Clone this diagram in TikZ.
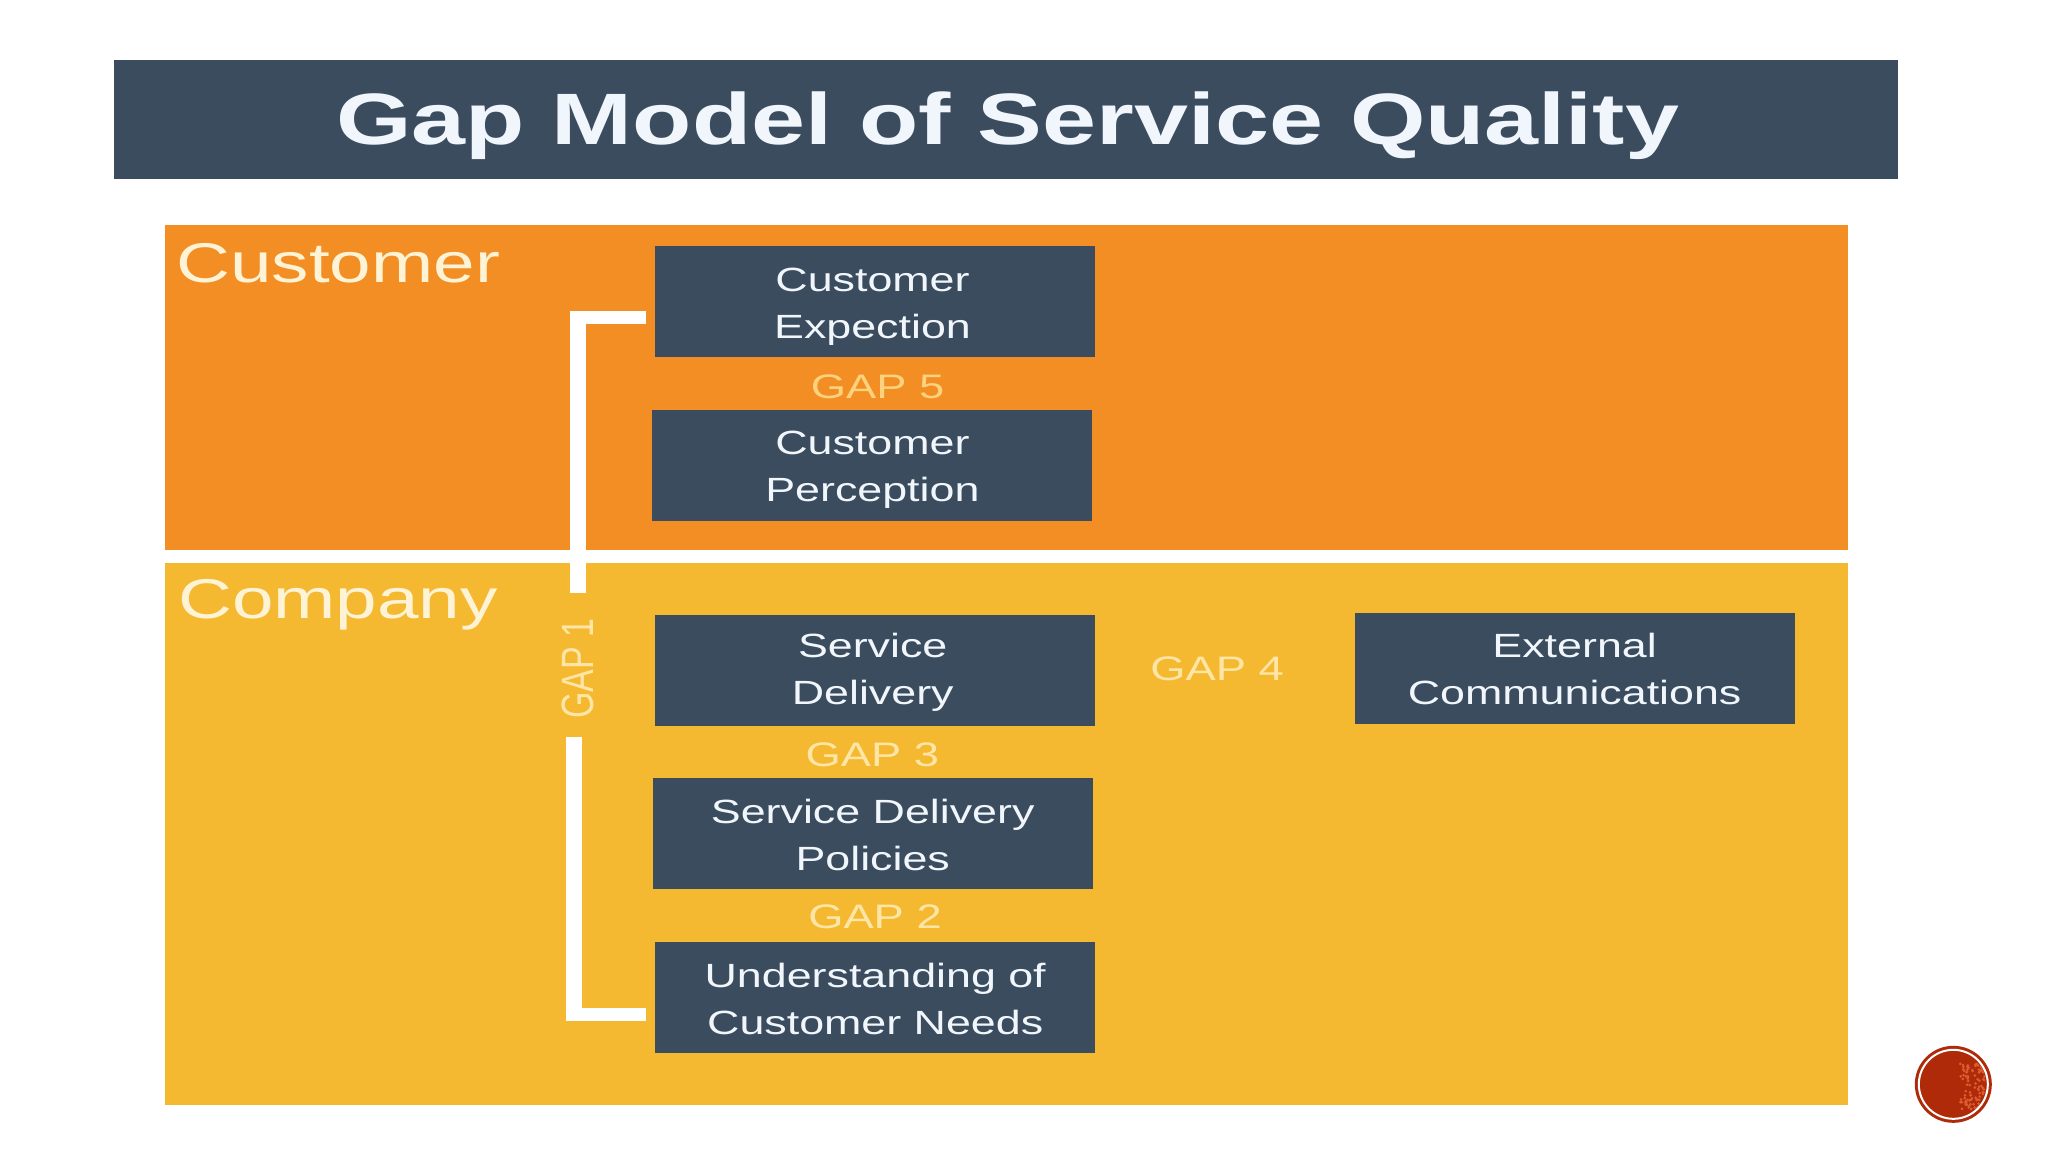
\documentclass[tikz,border=0pt]{standalone}
\usepackage{graphicx}
\usepackage{fontspec}
\setmainfont{Liberation Sans}
\definecolor{navy}{HTML}{3B4C5E}
\definecolor{custorange}{HTML}{F28E23}
\definecolor{compyellow}{HTML}{F4B931}
\definecolor{boxtext}{HTML}{F0F6FB}
\definecolor{gaptext}{HTML}{FFE6A6}
\definecolor{gaptextb}{HTML}{FCD27F}
\definecolor{headtext}{HTML}{FFF3D6}
\definecolor{badge}{HTML}{AE2A08}
\definecolor{speck}{HTML}{DB5C30}
\newcommand{\wide}[1]{\scalebox{1.333}[1]{#1}}
\newcommand{\widel}[1]{\hspace*{-2.5pt}\wide{#1}}
\tikzset{
  x=0.5pt,y=-0.5pt,
  band/.style={fill=#1,draw=none,inner sep=0pt},
  stepbox/.style={fill=navy,draw=none,inner sep=0pt,minimum width=220pt,minimum height=55.5pt,text=boxtext,align=center,text height=37pt,text depth=0pt,font=\fontsize{16.8}{23.6}\selectfont},
  gaplabel/.style={text=gaptext,inner sep=0pt,font=\fontsize{17}{20}\selectfont},
  headlabel/.style={text=headtext,inner sep=0pt,anchor=west,font=\fontsize{28}{32}\selectfont},
  bracketh/.style={draw=white,line width=6.75pt},
  bracketv/.style={draw=white,line width=8.2pt}
}
\begin{document}
\begin{tikzpicture}
\useasboundingbox (0,0) rectangle (2048,1152);
\fill[white] (0,0) rectangle (2048,1152);
\node[fill=navy,inner sep=0pt,minimum width=892pt,minimum height=59.5pt,text=boxtext,text height=25.3pt,text depth=0.1pt,font=\bfseries\fontsize{36.4}{40}\selectfont] (title) at (1005.7,119.5) {\hspace*{2pt}\wide{Gap Model of Service Quality}};
\node[band=custorange,minimum width=841.5pt,minimum height=162.25pt] (customer) at (1006.5,387.25) {};
\node[band=compyellow,minimum width=841.5pt,minimum height=271pt] (company) at (1006.5,834) {};
\node[headlabel] (customerlabel) at (176,263.5) {\wide{Customer}};
\node[headlabel] (companylabel) at (178,604.5) {\wide{Company}};
\node[stepbox] (ce) at (875,301.7) {\widel{Customer}\\\widel{Expection}};
\node[stepbox,text height=36.4pt] (cp) at (872.4,465.5) {\wide{Customer}\\\wide{Perception}};
\node[stepbox,text height=34.4pt] (sd) at (875.2,670) {\widel{Service}\\\widel{Delivery}};
\node[stepbox] (sdp) at (872.7,833.8) {\wide{Service Delivery}\\\wide{Policies}};
\node[stepbox] (ucn) at (875.2,997.3) {\wide{Understanding of}\\\wide{Customer Needs}};
\node[stepbox,text height=36.4pt] (ec) at (1574.6,668) {\wide{External}\\\wide{Communications}};
\node[gaplabel,text=gaptextb] (gap5) at (877.7,386.6) {\wide{GAP 5}};
\node[gaplabel] (gap3) at (872.4,755) {\wide{GAP 3}};
\node[gaplabel] (gap2) at (875,917) {\wide{GAP 2}};
\node[gaplabel] (gap4) at (1217,668.7) {\wide{GAP 4}};
\node[gaplabel] (gap1) at (578,668.5) {\wide{\rotatebox{90}{GAP 1}}};
% upper bracket
\coordinate (b1a) at (646,317.3);
\coordinate (b1b) at (570,317.3);
\coordinate (b1c) at (577.7,310.8);
\coordinate (b1d) at (577.7,593);
\draw[bracketh] (b1a) -- (b1b);
\draw[bracketv] (b1c) -- (b1d);
% lower bracket
\coordinate (b2a) at (646.4,1014.5);
\coordinate (b2b) at (566,1014.5);
\coordinate (b2c) at (574,1021.3);
\coordinate (b2d) at (574,737.4);
\draw[bracketh] (b2a) -- (b2b);
\draw[bracketv] (b2c) -- (b2d);
% badge
\fill[badge] (1953.3,1084.3) circle (38.5);
\begin{scope}
\clip (1953.3,1084.3) circle (33);
\pgfmathsetseed{17}
\foreach \i in {1,...,110}{
  \pgfmathsetmacro{\px}{1960+rnd*28}
  \pgfmathsetmacro{\py}{1063+rnd*46}
  \fill[speck] (\px,\py) circle (1.5);
}
\end{scope}
\draw[white,line width=1pt] (1953.3,1084.3) circle (34.5);
\end{tikzpicture}
\end{document}
